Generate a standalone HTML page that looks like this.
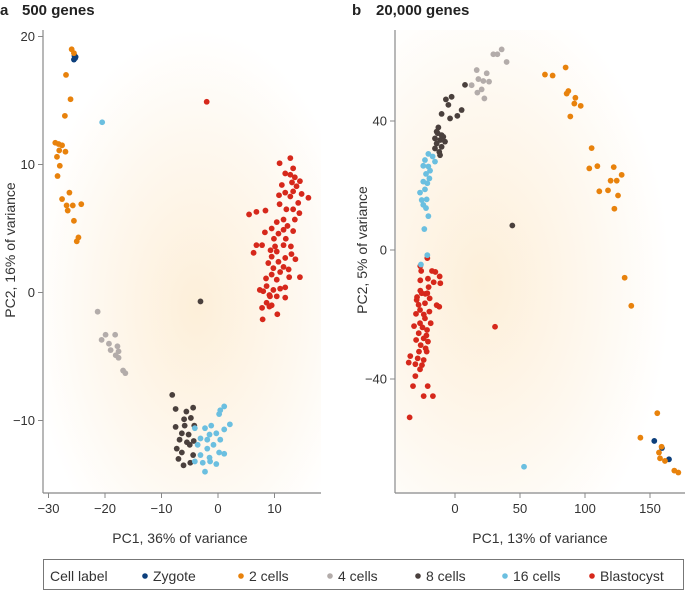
<!DOCTYPE html>
<html><head><meta charset="utf-8">
<style>
html,body{margin:0;padding:0;background:#fff;}
svg{display:block;font-family:"Liberation Sans",sans-serif;}
</style></head>
<body>
<svg id="chart" width="685" height="591" viewBox="0 0 685 591" xmlns="http://www.w3.org/2000/svg">
<defs>
<radialGradient id="ga" cx="0.55" cy="0.6" r="0.6">
<stop offset="0" stop-color="#fdefd9"/><stop offset="0.6" stop-color="#fef8ef"/><stop offset="1" stop-color="#ffffff"/>
</radialGradient>
<radialGradient id="gb" cx="0.3" cy="0.55" r="0.65">
<stop offset="0" stop-color="#fdefd9"/><stop offset="0.6" stop-color="#fef8ef"/><stop offset="1" stop-color="#ffffff"/>
</radialGradient>
</defs>
<rect x="44" y="30" width="277" height="462" fill="url(#ga)"/>
<rect x="396" y="30" width="289" height="462" fill="url(#gb)"/>
<text x="0" y="15" font-size="15" font-weight="bold" fill="#222">a<tspan x="22">500 genes</tspan></text>
<text x="352" y="15" font-size="15" font-weight="bold" fill="#222">b<tspan x="376">20,000 genes</tspan></text>
<g id="pa"></g>
<g id="pb"></g>
<text transform="translate(15,250) rotate(-90)" text-anchor="middle" font-size="14" fill="#333">PC2, 16% of variance</text>
<text x="180" y="543" text-anchor="middle" font-size="14" fill="#333">PC1, 36% of variance</text>
<text transform="translate(367,250) rotate(-90)" text-anchor="middle" font-size="14" fill="#333">PC2, 5% of variance</text>
<text x="540" y="543" text-anchor="middle" font-size="14" fill="#333">PC1, 13% of variance</text>
<g>
<rect x="43.5" y="559.5" width="640" height="30" fill="#fff" stroke="#777" stroke-width="1"/>
<text x="50" y="581" font-size="14" fill="#333">Cell label</text>
<g id="leg"></g>
</g>
</svg>
<script>
const classNames=["Zygote","2 cells","4 cells","8 cells","16 cells","Blastocyst"];
const classColors=["#0c3f7c","#e8820c","#b3acaa","#4a403d","#6bbfe0","#d6281b"];
// Panel a (500 genes) data: [PC1, PC2]
const aZygote=[[-25.4,18.5],[-25.3,18.3],[-25.5,18.2],[-25.2,18.4]];
const a2cells=[[-25.9,19.0],[-25.5,18.7],[-26.9,17.0],[-26.1,15.1],[-27.1,13.8],[-28.8,11.7],[-28.2,11.6],[-27.6,11.5],[-28.1,11.1],[-27.0,11.0],[-28.5,10.6],[-28.0,9.9],[-28.4,9.1],[-26.3,7.8],[-27.6,7.3],[-26.8,6.8],[-25.7,6.8],[-24.2,6.9],[-26.6,6.4],[-25.5,5.6],[-24.7,4.3],[-25.0,4.0]];
const a4cells=[[-21.3,-1.5],[-19.9,-3.3],[-20.6,-3.7],[-18.2,-3.3],[-19.3,-4.0],[-17.8,-4.2],[-19.0,-4.5],[-17.6,-4.6],[-18.1,-4.9],[-17.6,-5.1],[-16.8,-6.1],[-16.4,-6.3]];
const a8cells=[[-3.1,-0.7],[-8.1,-8.0],[-7.5,-9.1],[-4.4,-9.0],[-5.6,-9.3],[-6.0,-9.9],[-4.8,-9.8],[-7.5,-10.5],[-5.9,-10.4],[-4.2,-10.4],[-6.4,-11.0],[-5.2,-11.1],[-4.3,-11.6],[-6.8,-11.5],[-5.5,-11.7],[-7.3,-12.2],[-6.4,-12.5],[-5.0,-11.9],[-7.0,-13.0],[-6.1,-13.5],[-4.9,-13.3],[-4.4,-12.7]];
const a16cells=[[-20.5,13.3],[1.1,-8.9],[0.4,-9.2],[0.2,-9.5],[2.1,-10.3],[-1.2,-10.4],[-2.3,-10.6],[-4.1,-10.6],[1.1,-10.7],[-0.3,-11.0],[-1.5,-11.1],[-3.1,-11.4],[-1.9,-11.5],[0.4,-11.5],[-3.6,-11.9],[-0.8,-11.9],[-1.9,-12.2],[0.2,-12.5],[1.1,-12.6],[-3.1,-12.7],[-1.5,-12.9],[-4.1,-13.2],[-2.7,-13.3],[-0.3,-13.4],[-2.3,-14.0],[-1.4,-13.2]];
const aBlast=[[-2.0,14.9],[12.8,10.5],[10.9,10.1],[13.3,9.7],[11.9,9.3],[12.8,9.2],[13.6,9.0],[14.5,8.7],[13.1,8.6],[13.9,8.3],[13.3,7.9],[11.9,7.8],[10.8,7.6],[14.8,7.7],[16.0,7.4],[12.8,7.5],[14.2,7.0],[13.3,6.5],[12.1,6.5],[14.4,6.2],[5.5,6.1],[6.8,6.3],[8.4,6.4],[13.6,5.7],[11.6,5.7],[10.4,5.5],[9.5,5.0],[11.6,4.9],[13.3,4.8],[8.3,4.7],[10.7,4.6],[12.0,4.2],[9.9,4.2],[6.8,3.7],[7.8,3.7],[11.6,3.7],[10.1,3.6],[12.9,3.6],[6.3,3.1],[9.3,3.3],[10.4,3.2],[9.5,2.8],[11.9,2.7],[13.7,2.6],[10.7,2.4],[8.9,2.3],[11.6,2.0],[9.8,1.9],[11.0,1.6],[9.5,1.4],[12.6,1.2],[14.5,1.2],[8.5,1.1],[10.4,1.0],[7.4,0.2],[8.6,0.5],[9.8,0.2],[11.0,0.3],[11.9,0.4],[9.1,-0.2],[10.4,-0.3],[8.0,0.1],[9.2,-0.3],[11.9,-0.4],[8.6,-0.8],[9.5,-1.0],[7.8,-1.2],[9.1,-1.1],[10.5,-1.7],[7.9,-2.1],[12.3,5.2],[10.9,6.9],[13.0,3.0],[11.3,8.4],[12.5,1.8]];
// Panel b (20,000 genes)
const bZygote=[[153.3,-59.2],[159.2,-61.4],[164.6,-64.9]];
const b2cells=[[69.2,54.4],[75.1,54.1],[85.1,56.6],[85.9,48.5],[87.2,49.3],[92.6,47.2],[91.8,45.4],[96.7,44.7],[88.7,41.4],[105.1,31.6],[103.3,25.3],[109.5,26.0],[122.1,25.7],[128.2,23.3],[119.7,21.5],[124.4,21.5],[111.0,18.2],[117.7,18.5],[125.4,16.9],[122.6,12.8],[130.5,-8.6],[135.6,-17.3],[155.6,-50.6],[142.6,-58.2],[158.9,-61.0],[156.9,-62.8],[157.7,-64.6],[161.5,-65.4],[168.7,-68.4],[171.8,-69.0]];
const b4cells=[[35.9,62.2],[29.5,60.7],[32.6,60.7],[39.7,58.3],[16.7,55.8],[24.4,54.8],[18.0,53.0],[21.8,52.4],[12.8,51.1],[20.5,49.8],[17.2,48.8],[22.6,47.0],[26.2,52.2]];
const b8cells=[[7.7,51.2],[-2.6,47.5],[-7.0,46.7],[-5.1,45.0],[-10.3,42.2],[-3.8,40.8],[1.8,41.6],[5.1,43.4],[-12.8,38.0],[-14.1,36.7],[-10.3,35.6],[-15.4,34.6],[-11.5,34.1],[-7.7,33.6],[-14.1,33.0],[-10.3,32.0],[-15.4,31.5],[-12.1,30.4],[-11.5,29.4],[-9.0,35.1],[-13.3,36.2],[44.1,7.6]];
const b16cells=[[-20.5,29.8],[-17.2,29.0],[-23.1,27.9],[-15.4,27.4],[-20.5,25.9],[-24.4,26.1],[-19.2,24.6],[-22.3,23.6],[-19.7,22.2],[-24.4,21.2],[-21.3,20.7],[-23.1,18.8],[-26.9,17.8],[-25.6,15.5],[-21.8,15.7],[-24.4,14.0],[-22.3,13.0],[-20.5,10.5],[-23.6,6.5],[-21.3,-1.6],[-26.2,-4.5],[53.1,-67.2]];
const bBlast=[[30.8,-23.8],[-34.9,-51.9],[-21.3,-2.5],[-26.7,-5.0],[-26.0,-6.5],[-17.7,-6.5],[-15.1,-6.8],[-11.8,-8.2],[-11.3,-10.3],[-20.8,-8.9],[-26.7,-9.4],[-16.4,-10.0],[-20.3,-11.5],[-26.7,-12.6],[-22.8,-13.6],[-29.2,-14.6],[-25.6,-13.4],[-21.3,-13.4],[-29.5,-15.5],[-14.1,-17.1],[-12.1,-17.6],[-23.1,-16.5],[-26.9,-18.6],[-19.7,-19.1],[-30.0,-19.8],[-23.1,-21.2],[-18.7,-22.7],[-26.9,-22.7],[-31.5,-23.6],[-21.5,-24.8],[-27.9,-25.8],[-24.1,-27.4],[-29.9,-27.9],[-20.8,-28.4],[-26.4,-29.5],[-22.6,-30.5],[-27.7,-31.5],[-21.8,-31.5],[-34.4,-32.9],[-28.7,-33.6],[-24.1,-34.1],[-35.6,-34.9],[-30.5,-35.4],[-25.4,-35.7],[-26.9,-37.0],[-30.5,-39.1],[-32.3,-42.2],[-21.0,-42.2],[-24.1,-45.3],[-17.0,-45.3],[-24.0,-20.0],[-22.0,-26.5],[-25.0,-24.0],[-19.5,-15.0],[-28.0,-17.0]];
const aXTicks=[-30,-20,-10,0,10];
const aYTicks=[-10,0,10,20];
const bXTicks=[0,50,100,150];
const bYTicks=[-40,0,40];

const NS="http://www.w3.org/2000/svg";
function ax(v){return 218+5.65*v;}
function ay(v){return 292.5-12.8*v;}
function bx(v){return 455+1.3*v;}
function by(v){return 250-3.225*v;}
function mk(tag,attrs,parent){const e=document.createElementNS(NS,tag);for(const k in attrs)e.setAttribute(k,attrs[k]);parent.appendChild(e);return e;}

function drawAxes(g,left,right,top,bottom,xt,yt,fx,fy,prefix){
  const yl=mk('line',{x1:left,y1:top,x2:left,y2:bottom,stroke:'#888','stroke-width':1.2},g);
  
  
  const xl=mk('line',{x1:left,y1:bottom,x2:right,y2:bottom,stroke:'#888','stroke-width':1.2},g);
  
  
  xt.forEach(v=>{const x=fx(v);
    mk('line',{x1:x,y1:bottom,x2:x,y2:bottom+5,stroke:'#888'},g);
    const t=mk('text',{x:x,y:bottom+20,'text-anchor':'middle','font-size':13,fill:'#333'},g);
    t.textContent=(v<0?'\u2212'+(-v):String(v));
    
    
  });
  yt.forEach(v=>{const y=fy(v);
    mk('line',{x1:left-5,y1:y,x2:left,y2:y,stroke:'#888'},g);
    const t=mk('text',{x:left-8,y:y+4.5,'text-anchor':'end','font-size':13,fill:'#333'},g);
    t.textContent=(v<0?'\u2212'+(-v):String(v));
    
    
  });
}
function drawPoints(g,sets,fx,fy,prefix){
  const order=[5,0,1,2,3,4];
  order.forEach(ci=>{
    sets[ci].forEach(p=>{
      const c=mk('circle',{cx:fx(p[0]),cy:fy(p[1]),r:2.9,fill:classColors[ci]},g);
      
      
    });
  });
}
const pa=document.getElementById('pa'), pb=document.getElementById('pb');
drawAxes(pa,43,321,30,493,aXTicks,aYTicks,ax,ay,'panel-a');
drawAxes(pb,395,685,30,493,bXTicks,bYTicks,bx,by,'panel-b');
drawPoints(pa,[aZygote,a2cells,a4cells,a8cells,a16cells,aBlast],ax,ay,'panel-a');
drawPoints(pb,[bZygote,b2cells,b4cells,b8cells,b16cells,bBlast],bx,by,'panel-b');

const leg=document.getElementById('leg');
const legX=[145,241,330,418,505,592];
classNames.forEach((n,i)=>{
  const c=mk('circle',{cx:legX[i],cy:576,r:2.8,fill:classColors[i]},leg);
  
  
  const t=mk('text',{x:legX[i]+8,y:581,'font-size':14,fill:'#333'},leg);
  t.textContent=n;
  
  
});
</script>
</body></html>
